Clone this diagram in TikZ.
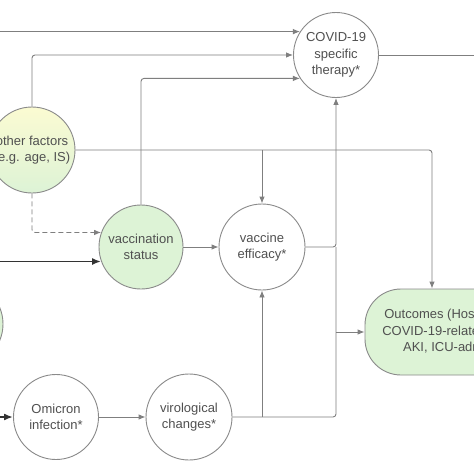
\documentclass[tikz,border=0pt]{standalone}
\usepackage{fontspec}
\setmainfont{Liberation Sans}
\usetikzlibrary{arrows.meta,calc}
\definecolor{txt}{HTML}{505050}
\definecolor{edge}{HTML}{8A8A8A}
\definecolor{ln}{HTML}{7F7F7F}
\definecolor{grn}{HTML}{DDF3D6}
\definecolor{yel}{HTML}{FBFBD2}
\definecolor{thick}{HTML}{333333}
\begin{document}
\begin{tikzpicture}[x=1pt,y=-1pt,
 circ/.style={circle,draw=edge,line width=0.9pt,minimum size=85pt,inner sep=0pt,align=center,text=txt,font=\fontsize{13}{16.5}\selectfont},
 conn/.style={draw=ln,line width=0.9pt,rounded corners=3pt},
 arr/.style={conn,-{Latex[length=7pt,width=5.5pt]}},
 bold/.style={draw=thick,line width=1.8pt,-{Latex[length=9pt,width=7pt]}},
]
\useasboundingbox (0,0) rectangle (474,474);
\fill[white] (0,0) rectangle (474,474);
% nodes
\node[circ,fill=white] (covid) at (336,55) {COVID-19\\specific\\therapy*};
\node[circ,top color=yel,bottom color=grn,minimum size=86pt] (other) at (32,150) {other factors\\(e.g. age, IS)};
\node[circ,fill=grn,minimum size=84pt] (vacc) at (141,247) {vaccination\\status};
\node[circ,fill=white,minimum size=86pt] (eff) at (262,247) {vaccine\\efficacy*};
\node[circ,fill=white] (omi) at (56,417) {Omicron\\infection*};
\node[circ,fill=white,minimum size=86pt] (viro) at (189,417) {virological\\changes*};
\node[circ,fill=grn,minimum size=86pt] (hidden) at (-40,324) {};
\node[draw=edge,line width=0.9pt,fill=grn,rounded corners=36pt,minimum width=194pt,minimum height=86pt,align=center,text=txt,font=\fontsize{13}{16.5}\selectfont] (out) at (462,332) {Outcomes (Hospitalisation,\\COVID-19-related mortality,\\AKI, ICU-admission)};
% free ends
\coordinate (s1) at (covid.147 -| 0,0);
\coordinate (s2) at (vacc.200 -| 0,0);
\coordinate (s3) at (omi.west -| 0,0);
\coordinate (e1) at (covid.east -| 474,0);
% connectors
\draw[arr] (s1) -- (covid.147);
\draw[arr] (other.north) |- (covid.west);
\draw[arr] (vacc.north) |- (covid.213);
\draw[arr] (other.east) -| (out.north -| 432,0);
\draw[arr] (eff.north |- other.east) -- (eff.north);
\draw[arr,dash pattern=on 5pt off 3pt] (other.south) |- (vacc.160);
\draw[bold] (s2) -- (vacc.200);
\draw[arr] (vacc.east) -- (eff.west);
\draw[arr] (eff.east) -| (covid.south);
\draw[conn] (viro.east) -| (eff.east -| covid.south);
\draw[arr] (out.west -| covid.south) -- (out.west);
\draw[arr] (eff.south |- viro.east) -- (eff.south);
\draw[arr] (omi.east) -- (viro.west);
\draw[bold] (s3) -- (omi.west);
\draw[conn] (covid.east) -- (e1);
\end{tikzpicture}
\end{document}
